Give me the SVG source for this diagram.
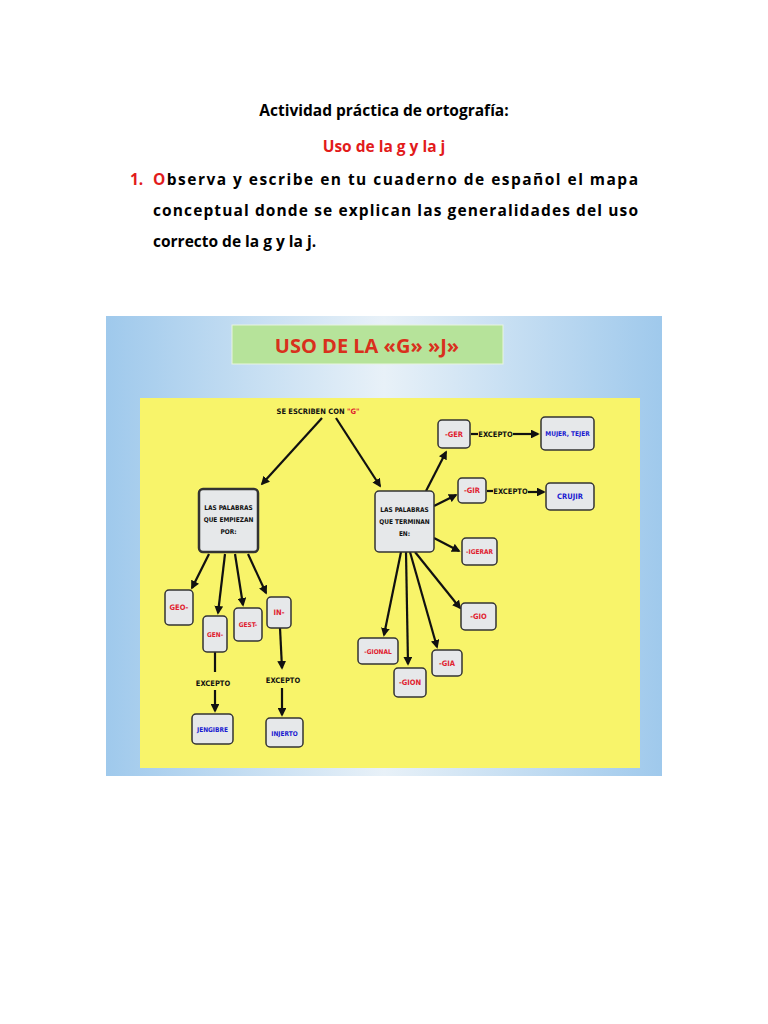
<svg xmlns="http://www.w3.org/2000/svg" width="768" height="1024" viewBox="0 0 768 1024">
<defs>
<style>
.h{font-family:"Open Sans","Liberation Sans",sans-serif;font-weight:bold;font-size:15.5px}
.n{fill:#e6e8ea;stroke:#333;stroke-width:1.5}
.t{font-family:"DejaVu Sans Condensed","Liberation Sans",sans-serif;font-weight:bold;font-size:7.5px;text-anchor:middle}
.s{font-size:6.5px}
.r{fill:#e0202e}.b{fill:#1a1ad0}.k{fill:#111}
.c line,.c path{stroke:#111;stroke-width:2.2;fill:none;marker-end:url(#a)}
</style>
<marker id="a" viewBox="0 0 10 10" refX="8" refY="5" markerWidth="4" markerHeight="4" orient="auto"><path d="M0,0L10,5L0,10z" fill="#111"/></marker>
<linearGradient id="bg" x1="0" y1="0" x2="1" y2="0"><stop offset="0" stop-color="#9fc9ec"/><stop offset="0.5" stop-color="#e8f1f8"/><stop offset="1" stop-color="#9fc9ec"/></linearGradient>
</defs>
<rect width="768" height="1024" fill="#fff"/>
<text class="h" x="384" y="116" text-anchor="middle">Actividad práctica de ortografía:</text>
<text class="h" x="384" y="152" text-anchor="middle" fill="#e21b1b">Uso de la g y la j</text>
<text class="h" x="130" y="185" fill="#e21b1b">1.</text>
<text class="h" x="153" y="185" textLength="485" lengthAdjust="spacing"><tspan fill="#e21b1b">O</tspan>bserva y escribe en tu cuaderno de español el mapa</text>
<text class="h" x="153" y="216" textLength="485" lengthAdjust="spacing">conceptual donde se explican las generalidades del uso</text>
<text class="h" x="153" y="247">correcto de la g y la j.</text>
<rect x="106" y="316" width="556" height="460" fill="url(#bg)"/>
<rect x="232" y="325" width="271" height="39" fill="#b6e39a" stroke="#e8f4e0"/>
<text x="367" y="353" text-anchor="middle" font-family="Open Sans,Liberation Sans,sans-serif" font-weight="bold" font-size="20" fill="#d9301c">USO DE LA «G» »J»</text>
<rect x="140" y="398" width="500" height="370" fill="#f8f46a"/>
<g class="c">
<line x1="322" y1="418" x2="262" y2="484"/>
<line x1="336" y1="418" x2="380" y2="486"/>
<line x1="426" y1="491" x2="446" y2="452"/>
<line x1="434" y1="506" x2="456" y2="495"/>
<line x1="434" y1="538" x2="459" y2="551"/>
<line x1="415" y1="552" x2="460" y2="608"/>
<line x1="410" y1="552" x2="437" y2="647"/>
<line x1="406" y1="552" x2="408" y2="664"/>
<line x1="401" y1="552" x2="384" y2="635"/>
<line x1="209" y1="554" x2="192" y2="588"/>
<line x1="225" y1="554" x2="218" y2="613"/>
<line x1="235" y1="554" x2="243" y2="605"/>
<line x1="248" y1="554" x2="266" y2="593"/>
<path d="M215,652V672" style="marker-end:none"/>
<line x1="215" y1="690" x2="215" y2="711"/>
<line x1="280" y1="628" x2="282" y2="668"/>
<line x1="282" y1="688" x2="282" y2="715"/>
<path d="M471,434H478" style="marker-end:none"/>
<path d="M513,434H538"/>
<path d="M487,491H493" style="marker-end:none"/>
<path d="M528,492H544"/>
</g>
<text class="t k" x="495.5" y="437">EXCEPTO</text>
<text class="t k" x="510.5" y="494">EXCEPTO</text>
<text class="t k" x="213" y="686">EXCEPTO</text>
<text class="t k" x="283" y="683">EXCEPTO</text>
<g id="root"><text class="t k" x="318" y="414">SE ESCRIBEN  CON <tspan class="r">"G"</tspan></text></g>
<g id="empiezan"><rect class="n" x="199" y="489" width="59" height="63" rx="4" style="stroke-width:2.5"/><text class="t k s" x="228.5" y="510">LAS PALABRAS</text><text class="t k s" x="228.5" y="522">QUE EMPIEZAN</text><text class="t k s" x="228.5" y="534">POR:</text></g>
<g id="terminan"><rect class="n" x="375" y="491" width="59" height="61" rx="4"/><text class="t k s" x="404.5" y="512">LAS PALABRAS</text><text class="t k s" x="404.5" y="524">QUE TERMINAN</text><text class="t k s" x="404.5" y="536">EN:</text></g>
<g id="ger"><rect class="n" x="438" y="420" width="32" height="28" rx="4"/><text class="t r" x="454" y="437">-GER</text></g>
<g id="mujer"><rect class="n" x="541" y="417" width="53" height="33" rx="4"/><text class="t b s" x="567.5" y="436">MUJER, TEJER</text></g>
<g id="gir"><rect class="n" x="458" y="478" width="28" height="25" rx="4"/><text class="t r" x="472" y="493">-GIR</text></g>
<g id="crujir"><rect class="n" x="546" y="483" width="48" height="27" rx="4"/><text class="t b" x="570" y="499">CRUJIR</text></g>
<g id="igerar"><rect class="n" x="462" y="538" width="35" height="27" rx="4"/><text class="t r s" x="479.5" y="554">-IGERAR</text></g>
<g id="gio"><rect class="n" x="461" y="603" width="35" height="27" rx="4"/><text class="t r" x="478.5" y="619">-GIO</text></g>
<g id="gional"><rect class="n" x="358" y="638" width="40" height="26" rx="4"/><text class="t r s" x="378" y="653.5">-GIONAL</text></g>
<g id="gia"><rect class="n" x="432" y="650" width="30" height="26" rx="4"/><text class="t r" x="447" y="665.5">-GIA</text></g>
<g id="gion"><rect class="n" x="394" y="668" width="32" height="29" rx="4"/><text class="t r" x="410" y="685">-GION</text></g>
<g id="geo"><rect class="n" x="165" y="590" width="28" height="35" rx="4"/><text class="t r" x="179" y="610">GEO-</text></g>
<g id="gen"><rect class="n" x="203" y="616" width="24" height="36" rx="4"/><text class="t r s" x="215" y="636.5">GEN-</text></g>
<g id="gest"><rect class="n" x="234" y="608" width="28" height="33" rx="4"/><text class="t r s" x="248" y="627">GEST-</text></g>
<g id="in"><rect class="n" x="267" y="597" width="24" height="31" rx="4"/><text class="t r" x="279" y="615">IN-</text></g>
<g id="jengibre"><rect class="n" x="192" y="714" width="41" height="30" rx="4"/><text class="t b s" x="212.5" y="731.5">JENGIBRE</text></g>
<g id="injerto"><rect class="n" x="266" y="718" width="37" height="29" rx="4"/><text class="t b s" x="284.5" y="735.5">INJERTO</text></g>
</svg>
